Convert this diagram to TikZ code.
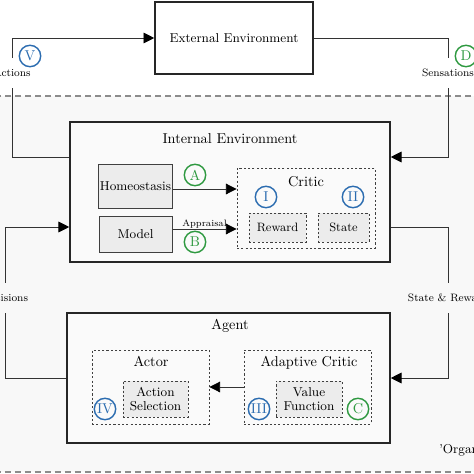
\documentclass[tikz,border=0pt]{standalone}
\usetikzlibrary{arrows.meta,calc}
\definecolor{cblue}{HTML}{2B6CB0}
\definecolor{cgreen}{HTML}{2E9940}
\definecolor{orgfill}{HTML}{F8F8F8}
\definecolor{intfill}{HTML}{FAFAFA}
\definecolor{grayfill}{HTML}{ECECEC}
\tikzset{
  bigbox/.style={draw=black!85, line width=1.1pt, fill=#1, inner sep=0pt},
  graybox/.style={draw=black!75, line width=0.7pt, fill=grayfill, inner sep=1pt, align=center, font=\fontsize{9}{10}\selectfont},
  dotbox/.style={draw=black!75, line width=0.6pt, dash pattern=on 1.5pt off 1.5pt, fill=#1, inner sep=1pt, align=center},
  orgbox/.style={draw=black!45, line width=1pt, dash pattern=on 4pt off 3pt, fill=orgfill, inner sep=0pt},
  title/.style={font=\fontsize{10}{12}\selectfont, inner sep=0pt},
  lbl/.style={font=\fontsize{7.5}{9}\selectfont, inner sep=0pt, minimum height=21pt},
  badge/.style={circle, draw=#1, text=#1, line width=1pt, minimum size=15pt, inner sep=0pt, font=\fontsize{10}{10}\selectfont},
  conn/.style={draw=black!80, line width=0.6pt},
  arr/.style={conn, -{Triangle[length=7.5pt,width=7.5pt,color=black]}},
}
\begin{document}
\begin{tikzpicture}[x=0.7pt,y=-0.7pt]
\useasboundingbox (0,0) rectangle (474,474);
\fill[white] (0,0) rectangle (474,474);
% organism
\node[orgbox, minimum width=339.5pt, minimum height=263.2pt] (org) at (237.5,284) {};
\node[anchor=west, font=\fontsize{9}{10}\selectfont, inner sep=0pt] (orglbl) at (439,450) {'Organism'};
% external environment
\node[bigbox=white, minimum width=110.6pt, minimum height=50.4pt, font=\fontsize{9}{11}\selectfont] (ext) at (234,38) {External Environment};
% internal environment
\node[bigbox=intfill, minimum width=224pt, minimum height=98pt] (int) at (230,192) {};
\node[title] (inttitle) at (230,139) {Internal Environment};
\node[graybox, minimum width=51.1pt, minimum height=30.8pt] (homeo) at (135.5,186) {Homeostasis};
\node[graybox, minimum width=51.1pt, minimum height=25.2pt] (model) at (135.5,234) {Model};
\node[dotbox=intfill, minimum width=96.6pt, minimum height=56pt] (critic) at (306,208) {};
\node[title] (critictitle) at (306,182) {Critic};
\node[dotbox=grayfill, minimum width=39.9pt, minimum height=20.3pt, font=\fontsize{8.5}{10}\selectfont] (reward) at (277.5,227.5) {Reward};
\node[dotbox=grayfill, minimum width=35.7pt, minimum height=20.3pt, font=\fontsize{8.5}{10}\selectfont] (state) at (343.5,227.5) {State};
% agent
\node[bigbox=intfill, minimum width=226.1pt, minimum height=91pt] (agent) at (228.5,378) {};
\node[title] (agenttitle) at (230,326) {Agent};
\node[dotbox=intfill, minimum width=81.9pt, minimum height=51.8pt] (actor) at (150.5,387) {};
\node[title] (actortitle) at (151,361) {Actor};
\node[dotbox=grayfill, minimum width=45.5pt, minimum height=25.2pt, font=\fontsize{9}{10}\selectfont] (actsel) at (155.5,399) {Action\\Selection};
\node[dotbox=intfill, minimum width=88.9pt, minimum height=51.8pt] (adcritic) at (307.5,387) {};
\node[title] (adcrtitle) at (309,363) {Adaptive Critic};
\node[dotbox=grayfill, minimum width=46.2pt, minimum height=25.2pt, font=\fontsize{9}{10}\selectfont] (valfn) at (309,399) {Value\\Function};
% side labels
\node[lbl] (actions) at (12,73) {Actions};
\node[lbl] (sens) at (448,73) {Sensations};
\node[lbl] (dec) at (5,298) {Decisions};
\node[lbl] (sr) at (448,298) {State \& Reward};
% connectors
\draw[arr] (actions.north) |- (ext.west);
\draw[conn] (int.west |- 0,157) -| (actions.south);
\draw[conn] (ext.east) -| (sens.north);
\draw[arr] (sens.south) |- (int.east |- 0,157);
\draw[arr] (dec.north) |- (int.west |- 0,227);
\draw[conn] (agent.west) -| (dec.south);
\draw[conn] (int.east |- 0,227) -| (sr.north);
\draw[arr] (sr.south) |- (agent.east);
\draw[arr] (homeo.east |- 0,189) -- (critic.west |- 0,189);
\draw[arr] (model.east |- 0,229) -- node[above=0.5pt, font=\fontsize{6.5}{7}\selectfont, inner sep=0pt] (appr) {Appraisal} (critic.west |- 0,229);
\draw[arr] (adcritic.west) -- (actor.east);
% badges
\node[badge=cblue] (bV) at (30,56) {V};
\node[badge=cgreen] (bD) at (466,56) {D};
\node[badge=cgreen] (bA) at (195,175) {A};
\node[badge=cgreen] (bB) at (195,242) {B};
\node[badge=cblue] (bI) at (266,197) {I};
\node[badge=cblue] (bII) at (353,197) {II};
\node[badge=cblue] (bIV) at (105,409) {IV};
\node[badge=cblue] (bIII) at (259,409) {III};
\node[badge=cgreen] (bC) at (358,409) {C};
\end{tikzpicture}
\end{document}
